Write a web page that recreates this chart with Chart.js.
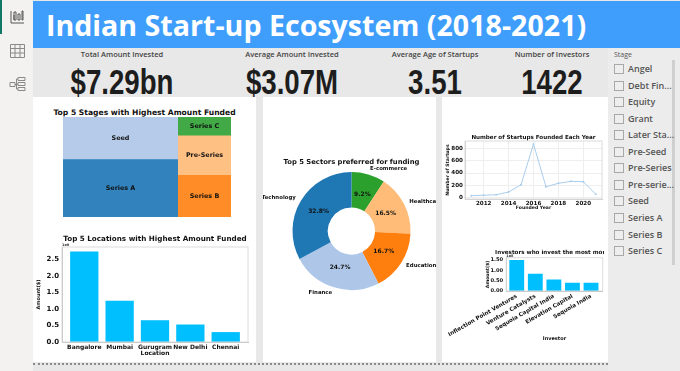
<!DOCTYPE html>
<html lang="en">
<head>
<meta charset="UTF-8">
<title>Indian Start-up Ecosystem</title>
<script src="https://cdn.jsdelivr.net/npm/chart.js"></script>
<style>
    html, body { margin: 0; padding: 0; background: #e6e6e6; }
    #page { position: relative; width: 680px; height: 371px; overflow: hidden; background: #e8e8e8; font-family: "Open Sans", sans-serif; filter: blur(0.45px); }
    #page > * { position: absolute; }
    canvas { position: absolute; filter: blur(0.4px); }
    #nav { left: 0; top: 0; width: 33px; height: 371px; background: #f3f2f1; }
    #navMark { left: 0; top: 0; width: 2px; height: 34px; background: #117865; }
    #banner { left: 33px; top: 1px; width: 647px; height: 47px; background: #3f9efc; color: #fff; font-weight: 700; font-size: 28.6px; line-height: 47px; padding-left: 13px; box-sizing: border-box; white-space: nowrap; }
    .panel { background: #fff; top: 97px; height: 265px; }
    .kpiTitle { top: 49px; width: 130px; text-align: center; font-size: 7.5px; line-height: 11px; font-weight: 600; color: #444; }
    .kpiValue { top: 62px; width: 150px; text-align: center; font-family: "Liberation Sans", sans-serif; font-weight: 700; font-size: 35px; line-height: 40px; color: #1d1d1d; transform: scaleX(0.79); }
    #dots { left: 33px; top: 363px; width: 575px; border-top: 2px dotted #8a8a8a; }
    #slicer { left: 608px; top: 48px; width: 72px; height: 323px; background: #ececec; }
    #stageTitle { left: 614px; top: 50px; font-size: 7px; line-height: 10px; color: #555; }
    #scroll { left: 672px; top: 60px; width: 3px; height: 205px; background: #cfcfcf; }
    .box { left: 614px; width: 8px; height: 8px; border: 1px solid #a8a8a8; background: #eee; }
    .opt { left: 628px; font-size: 9px; line-height: 12px; font-weight: 600; color: #555; white-space: nowrap; }
    #treeTitle { left: 33px; top: 108px; width: 223px; text-align: center; font: bold 7.6px "DejaVu Sans", sans-serif; line-height: 10px; color: #111; white-space: nowrap; }
</style>
</head>
<body>
<div id="page">
    <div id="nav"></div>
    <div id="navMark"></div>
    <svg style="left:10px;top:9px" width="15" height="15" fill="none" stroke="#555" stroke-width="1"><path d="M1 2v12h13M4 11V6M4 11h2V3H4zM8 11V5h2v6zM12 11V2h1v9z"/></svg>
    <svg style="left:10px;top:44px" width="15" height="14" fill="none" stroke="#8a8a8a" stroke-width="1"><path d="M.5.5h14v13H.5zM.5 4.5h14M.5 9h14M5 .5v13M10 .5v13"/></svg>
    <svg style="left:9px;top:76px" width="17" height="16" fill="none" stroke="#8a8a8a" stroke-width="1"><path d="M1 6.5h5v4H1zM9 1.5h7v3H9zM9 6.5h7v3H9zM9 11.5h7v3H9zM6 8.5h3M7.5 3v10M7.5 3H9M7.5 13H9"/></svg>
    <div id="banner">Indian Start-up Ecosystem (2018-2021)</div>
    <div class="panel" style="left:33px;width:223px"></div>
    <div class="panel" style="left:263px;width:173px"></div>
    <div class="panel" style="left:442px;width:166px"></div>
    <div id="slicer"></div>
    <div id="scroll"></div>
    <div id="dots"></div>
    <div id="stageTitle">Stage</div>
    <div id="treeTitle">Top 5 Stages with Highest Amount Funded</div>
    <canvas id="treeLeft" width="115" height="100" style="left:63px;top:117px"></canvas>
    <canvas id="treeRight" width="53" height="100" style="left:178px;top:117px"></canvas>
    <canvas id="locationChart" width="223" height="132" style="left:33px;top:230px"></canvas>
    <canvas id="sectorChart" width="173" height="160" style="left:263px;top:150px"></canvas>
    <canvas id="foundedChart" width="164" height="85" style="left:442px;top:130px"></canvas>
    <canvas id="investorChart" width="162" height="99" style="left:442px;top:245px"></canvas>
</div>

<script>
    // KPI cards
    const kpiTitles = ['Total Amount Invested', 'Average Amount Invested', 'Average Age of Startups', 'Number of Investors'];
    const kpiValues = ['$7.29bn', '$3.07M', '3.51', '1422'];
    const kpiCenters = [122, 292, 435, 552];

    // Stage slicer
    const stageOptions = ['Angel', 'Debt Fin...', 'Equity', 'Grant', 'Later Sta...', 'Pre-Seed', 'Pre-Series', 'Pre-serie...', 'Seed', 'Series A', 'Series B', 'Series C'];

    // Treemap, share of amount funded (%)
    const treeLeftStages = ['Series A', 'Seed'];
    const treeLeftValues = [39.2, 29.2];
    const treeRightStages = ['Series B', 'Pre-Series', 'Series C'];
    const treeRightValues = [13.1, 12.5, 5.9];

    // Top locations (1e9 $)
    const locationNames = ['Bangalore', 'Mumbai', 'Gurugram', 'New Delhi', 'Chennai'];
    const locationAmounts = [2.74, 1.25, 0.66, 0.53, 0.30];

    // Top sectors (%)
    const sectorNames = ['E-commerce', 'Healthcare', 'Education', 'Finance', 'Technology'];
    const sectorShares = [9.2, 16.5, 16.7, 24.7, 32.8];
    const sectorColors = ['#2ca02c', '#ffbb78', '#ff7f0e', '#aec7e8', '#1f77b4'];

    // Startups founded per year
    const foundedYears = [2011, 2012, 2013, 2014, 2015, 2016, 2017, 2018, 2019, 2020, 2021];
    const foundedCounts = [32, 40, 48, 92, 210, 870, 178, 233, 265, 260, 55];

    // Top investors (1e8 $)
    const investorNames = ['Inflection Point Ventures', 'Venture Catalysts', 'Sequoia Capital India', 'Elevation Capital', 'Sequoia India'];
    const investorAmounts = [1.5, 0.84, 0.56, 0.40, 0.40];

    const page = document.getElementById('page');
    function addDiv(cls, text, left, top) {
        const d = document.createElement('div');
        d.className = cls;
        d.textContent = text;
        if (left !== null) d.style.left = left + 'px';
        if (top !== null) d.style.top = top + 'px';
        page.appendChild(d);
    }
    kpiTitles.forEach((t, i) => addDiv('kpiTitle', t, kpiCenters[i] - 65, null));
    kpiValues.forEach((t, i) => addDiv('kpiValue', t, kpiCenters[i] - 75, null));
    stageOptions.forEach((t, i) => {
        const y = 69 + i * 16.55;
        addDiv('box', '', null, Math.round(y - 5));
        addDiv('opt', t, null, Math.round(y - 6));
    });

    Chart.defaults.animation = false;
    Chart.defaults.responsive = false;
    Chart.defaults.font.family = '"DejaVu Sans", sans-serif';
    Chart.defaults.font.weight = 'bold';
    Chart.defaults.color = '#111';
    Chart.defaults.plugins.legend.display = false;
    Chart.defaults.plugins.tooltip.enabled = false;

    // plot frame on all four sides, like matplotlib
    const framePlugin = {
        id: 'frame',
        afterDraw(chart) {
            const a = chart.chartArea, c = chart.ctx;
            c.save();
            c.strokeStyle = '#dcdcdc';
            c.lineWidth = 1;
            c.strokeRect(a.left, a.top, a.width, a.height);
            c.restore();
        }
    };

    // title centred over the plot, clipped by the canvas instead of squeezed
    function plotTitle(text, size, y) {
        return {
            id: 'plotTitle',
            afterDraw(chart) {
                const a = chart.chartArea, c = chart.ctx;
                c.save();
                c.font = 'bold ' + size + 'px "DejaVu Sans"';
                c.fillStyle = '#111';
                c.textAlign = 'center';
                c.textBaseline = 'middle';
                c.fillText(text, (a.left + a.right) / 2, y);
                c.restore();
            }
        };
    }

    // "1e9" style offset text above the y axis
    function offsetText(text) {
        return {
            id: 'offsetText',
            afterDraw(chart) {
                const c = chart.ctx;
                c.save();
                c.font = 'bold 3.5px "DejaVu Sans"';
                c.fillStyle = '#333';
                c.fillText(text, chart.chartArea.left, chart.chartArea.top - 1);
                c.restore();
            }
        };
    }

    // names in the middle of each treemap block
    const blockLabels = {
        id: 'blockLabels',
        afterDatasetsDraw(chart) {
            const c = chart.ctx;
            c.save();
            c.font = 'bold 6.4px "DejaVu Sans"';
            c.fillStyle = '#111';
            c.textAlign = 'center';
            c.textBaseline = 'middle';
            chart.data.datasets.forEach((ds, i) => {
                const p = chart.getDatasetMeta(i).data[0].getCenterPoint();
                c.fillText(ds.label, p.x, p.y);
            });
            c.restore();
        }
    };

    // pie labels: percentage inside, name outside
    const pieLabels = {
        id: 'pieLabels',
        afterDatasetsDraw(chart) {
            const c = chart.ctx;
            c.save();
            c.fillStyle = '#111';
            c.textBaseline = 'middle';
            chart.getDatasetMeta(0).data.forEach((arc, i) => {
                const mid = (arc.startAngle + arc.endAngle) / 2;
                const R = arc.outerRadius;
                c.font = 'bold 6px "DejaVu Sans"';
                c.textAlign = 'center';
                c.fillText(sectorShares[i].toFixed(1) + '%', arc.x + Math.cos(mid) * R * 0.65, arc.y + Math.sin(mid) * R * 0.65);
                const lx = arc.x + Math.cos(mid) * R * 1.1;
                c.font = 'bold 5.4px "DejaVu Sans"';
                c.textAlign = Math.cos(mid) >= 0 ? 'left' : 'right';
                c.fillText(sectorNames[i], lx, arc.y + Math.sin(mid) * R * 1.1);
            });
            c.restore();
        }
    };

    function treeChart(id, names, values, colors, total) {
        new Chart(document.getElementById(id), {
            type: 'bar',
            data: {
                labels: [''],
                datasets: names.map((n, i) => ({ label: n, data: [values[i]], backgroundColor: colors[i], barPercentage: 1, categoryPercentage: 1 }))
            },
            options: {
                scales: {
                    x: { display: false, stacked: true },
                    y: { display: false, stacked: true, min: 0, max: total }
                }
            },
            plugins: [blockLabels]
        });
    }
    treeChart('treeLeft', treeLeftStages, treeLeftValues, ['#3182bd', '#b5cbe9'], 68.4);
    treeChart('treeRight', treeRightStages, treeRightValues, ['#ff8c27', '#ffc084', '#41a945'], 31.5);

    function axisTitle(text, size, pad) {
        return { display: true, text: text, font: { size: size, weight: 'bold' }, padding: pad, color: '#111' };
    }
    function xFit(h) { return s => { s.height = h; }; }
    function yFit(w) { return s => { s.width = w; }; }

    // numeric x axis on the bar charts so the side margins match the picture
    new Chart(document.getElementById('locationChart'), {
        type: 'bar',
        data: { datasets: [{ data: locationAmounts.map((v, i) => ({ x: i, y: v })), backgroundColor: '#00bfff', barPercentage: 0.8, categoryPercentage: 1 }] },
        options: {
            layout: { padding: { top: 17, right: 8 } },
            scales: {
                x: {
                    type: 'linear', offset: false, min: -0.63, max: 4.63, afterFit: xFit(20),
                    grid: { display: false, tickLength: 2 }, border: { color: '#bbb' },
                    title: axisTitle('Location', 6, { top: 0, bottom: 5 }),
                    ticks: { stepSize: 1, includeBounds: false, autoSkip: false, maxRotation: 0, padding: 0, font: { size: 6 }, callback: v => locationNames[v] }
                },
                y: {
                    min: 0, max: 2.88, afterFit: yFit(29),
                    grid: { display: false, tickLength: 2 }, border: { color: '#bbb' },
                    title: axisTitle('Amount($)', 5, { top: 3, bottom: 0 }),
                    ticks: { stepSize: 0.5, includeBounds: false, padding: 1, font: { size: 7 }, callback: v => v.toFixed(1) }
                }
            }
        },
        plugins: [framePlugin, plotTitle('Top 5 Locations with Highest Amount Funded', 7.2, 9), offsetText('1e9')]
    });

    new Chart(document.getElementById('sectorChart'), {
        type: 'doughnut',
        data: { labels: sectorNames, datasets: [{ data: sectorShares, backgroundColor: sectorColors, borderWidth: 0 }] },
        options: {
            cutout: '40%',
            layout: { padding: { top: 22, left: 29.5, right: 25.5, bottom: 20 } }
        },
        plugins: [pieLabels, plotTitle('Top 5 Sectors preferred for funding', 6.8, 12)]
    });

    new Chart(document.getElementById('foundedChart'), {
        type: 'line',
        data: {
            datasets: [{
                data: foundedYears.map((y, i) => ({ x: y, y: foundedCounts[i] })),
                borderColor: '#a9cdec', borderWidth: 1, pointRadius: 1, pointBackgroundColor: '#a9cdec', pointBorderWidth: 0, tension: 0
            }]
        },
        options: {
            layout: { padding: { top: 11, right: 3.3 } },
            scales: {
                x: {
                    type: 'linear', min: 2010.5, max: 2021.5, afterFit: xFit(16),
                    grid: { color: '#eeeeee', tickLength: 1 }, border: { color: '#ccc' },
                    title: axisTitle('Founded Year', 4.6, { top: 0, bottom: 4 }),
                    ticks: { stepSize: 2, includeBounds: false, padding: 0, maxRotation: 0, font: { size: 5.6 }, callback: v => String(v) }
                },
                y: {
                    min: -21, max: 919, afterFit: yFit(23),
                    grid: { color: '#eeeeee', tickLength: 1 }, border: { color: '#ccc' },
                    title: axisTitle('Number of Startups', 4.6, { top: 3, bottom: 0 }),
                    ticks: { stepSize: 200, includeBounds: false, padding: 1, font: { size: 5.6 } }
                }
            }
        },
        plugins: [framePlugin, plotTitle('Number of Startups Founded Each Year', 5.6, 7.7)]
    });

    new Chart(document.getElementById('investorChart'), {
        type: 'bar',
        data: { datasets: [{ data: investorAmounts.map((v, i) => ({ x: i, y: v })), backgroundColor: '#00bfff', barPercentage: 0.8, categoryPercentage: 1 }] },
        options: {
            layout: { padding: { top: 12.7, right: 1.3 } },
            scales: {
                x: {
                    type: 'linear', offset: false, min: -0.568, max: 4.63, afterFit: xFit(53),
                    grid: { display: false, tickLength: 2 }, border: { color: '#bbb' },
                    title: axisTitle('Investor', 5, { top: 0, bottom: 2 }),
                    ticks: { stepSize: 1, includeBounds: false, autoSkip: false, minRotation: 30, maxRotation: 30, padding: 0, font: { size: 5.6 }, callback: v => investorNames[v] }
                },
                y: {
                    min: 0, max: 1.61, afterFit: yFit(62),
                    grid: { display: false, tickLength: 2 }, border: { color: '#bbb' },
                    title: { display: false },
                    ticks: { stepSize: 0.25, includeBounds: false, padding: 1, font: { size: 5.2 }, callback: v => v.toFixed(2) }
                }
            }
        },
        plugins: [framePlugin, plotTitle('Investors who invest the most money', 5.6, 7.7), offsetText('1e8'), {
            id: 'amountLabel',
            afterDraw(chart) {
                const c = chart.ctx;
                c.save();
                c.font = 'bold 4.6px "DejaVu Sans"';
                c.fillStyle = '#111';
                c.textAlign = 'center';
                c.translate(chart.chartArea.left - 17, (chart.chartArea.top + chart.chartArea.bottom) / 2);
                c.rotate(-Math.PI / 2);
                c.fillText('Amount($)', 0, 0);
                c.restore();
            }
        }]
    });
</script>
</body>
</html>
